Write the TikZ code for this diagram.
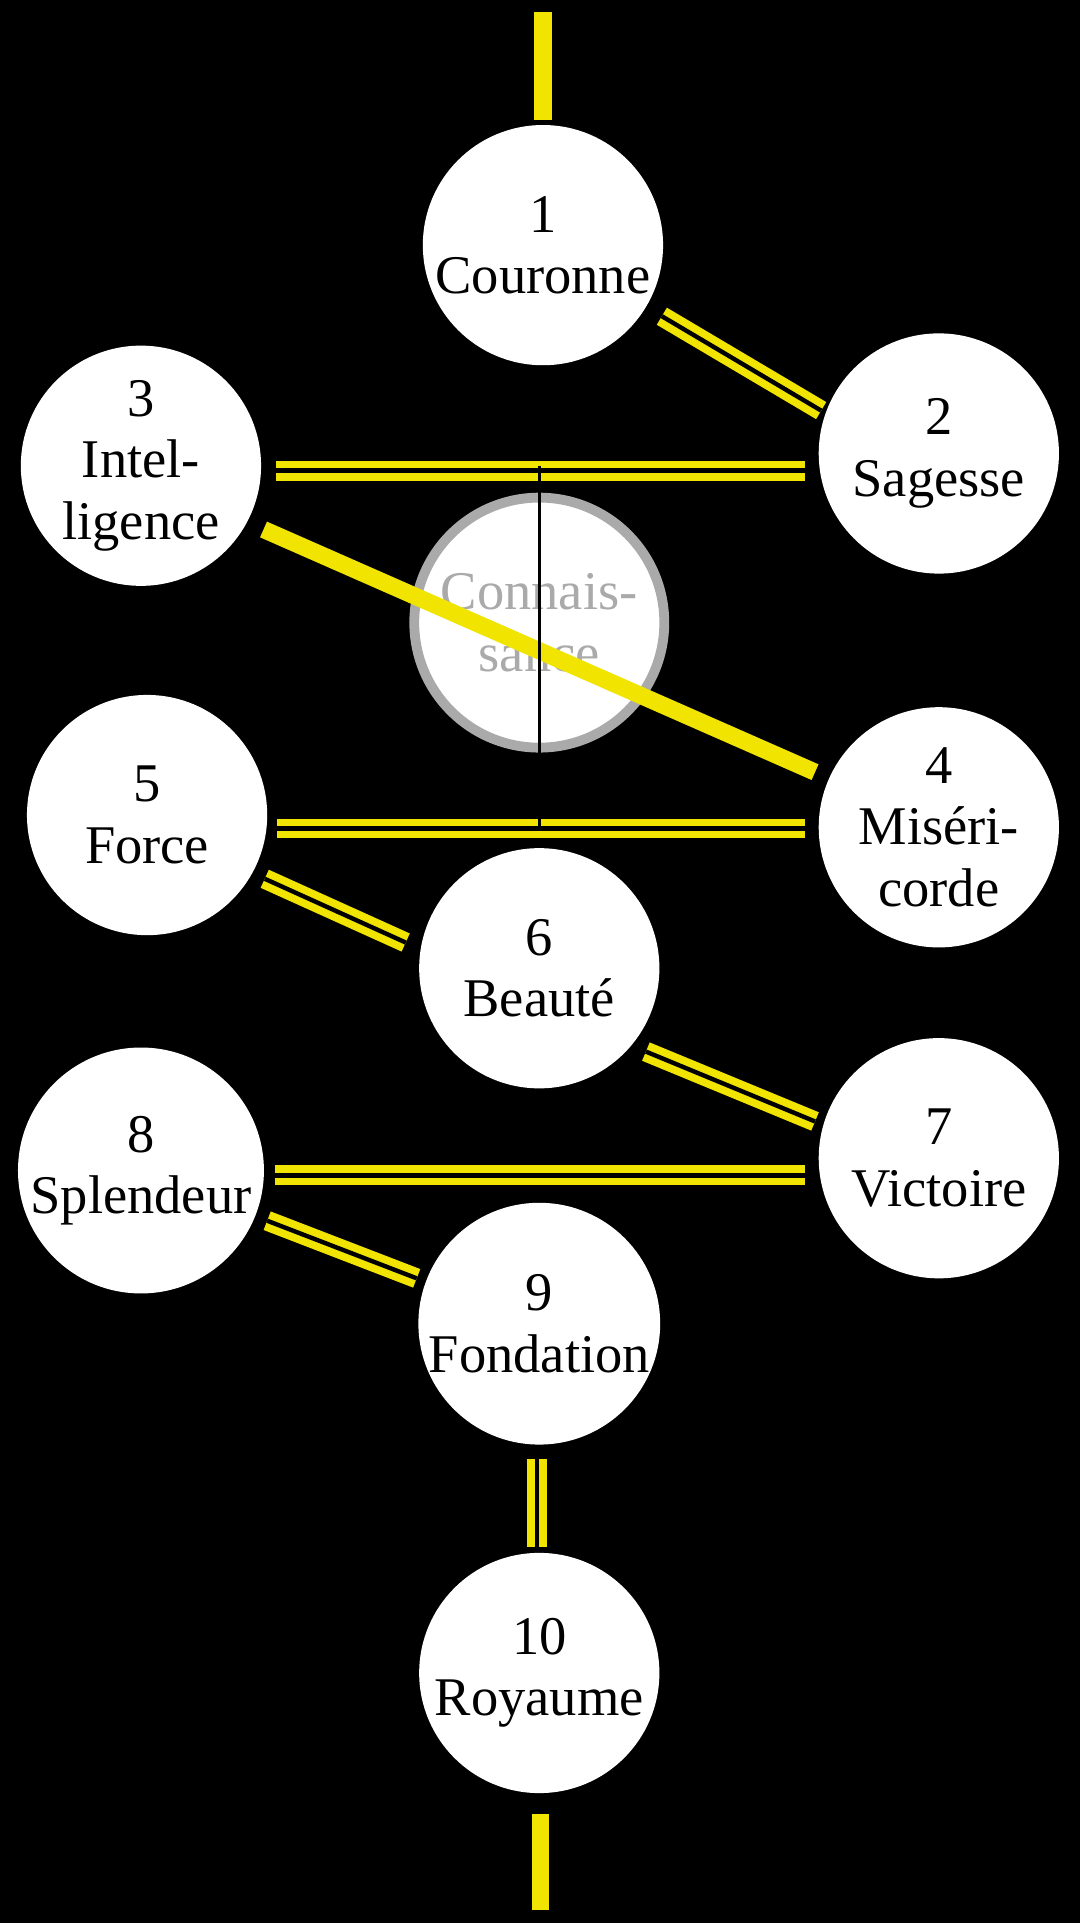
\documentclass[tikz,border=0pt]{standalone}
\usepackage{fontspec}
\setmainfont{Liberation Serif}
\definecolor{sefyellow}{RGB}{240,228,0}
\definecolor{sefgray}{RGB}{170,170,170}
\tikzset{
  sefira/.style={circle, fill=white, minimum size=196*0.0245cm, inner sep=0pt,
    align=center, font=\fontsize{31}{35}\selectfont},
  path2/.style={draw=sefyellow, double=black, line width=11pt*0.4, double distance=3pt*0.4},
  path1/.style={draw=sefyellow, line width=14*0.0245cm},
}
\begin{document}
\begin{tikzpicture}[x=0.0245cm, y=-0.0245cm]
  \fill[black] (0,0) rectangle (881,1569);
  \useasboundingbox (0,0) rectangle (881,1569);
  % stubs
  \draw[path1] (443,10) -- (443,98);
  \draw[path1] (441,1480) -- (441,1558);
  % paths
  \draw[path2, line width=4.4pt, double distance=2.5pt] (540,258) -- (670,335);
  \draw[path2, line width=4.4pt, double distance=2.5pt] (225,384) -- (657,384);
  \draw[path2, line width=4.4pt, double distance=2.5pt] (226,676) -- (657,676);
  \draw[path2, line width=4.4pt, double distance=2.5pt] (216,717) -- (331,769);
  \draw[path2, line width=4.4pt, double distance=2.5pt] (527,858) -- (665,915);
  \draw[path2, line width=4.4pt, double distance=2.5pt] (224,959) -- (657,959);
  \draw[path2, line width=4.4pt, double distance=2.5pt] (218,996) -- (340,1043);
  \draw[path2, line width=4.4pt, double distance=2.5pt] (438,1190) -- (438,1262);
  % knowledge
  \node[sefira, draw=sefgray, line width=8*0.0245cm, minimum size=204*0.0245cm,
    text=sefgray] (daat) at (440,508) {Connais-\\sance};
  \draw[path1] (215,432) -- (665,630);
  \draw[black, line width=1.6pt] (440,380) -- (440,676);
  % sefirot
  \node[sefira] (keter)   at (443,200)  {1\\Couronne};
  \node[sefira] (hokhma)  at (766,370)  {2\\Sagesse};
  \node[sefira] (bina)    at (115,380)  {3\\Intel-\\ligence};
  \node[sefira] (hesed)   at (766,675)  {4\\Miséri-\\corde};
  \node[sefira] (gevura)  at (120,665)  {5\\Force};
  \node[sefira] (tiferet) at (440,790)  {6\\Beauté};
  \node[sefira] (netsah)  at (766,945)  {7\\Victoire};
  \node[sefira] (hod)     at (115,955)  {8\\Splendeur};
  \node[sefira] (yesod)   at (440,1080) {9\\Fondation};
  \node[sefira] (malkhut) at (440,1365) {10\\Royaume};
\end{tikzpicture}
\end{document}
